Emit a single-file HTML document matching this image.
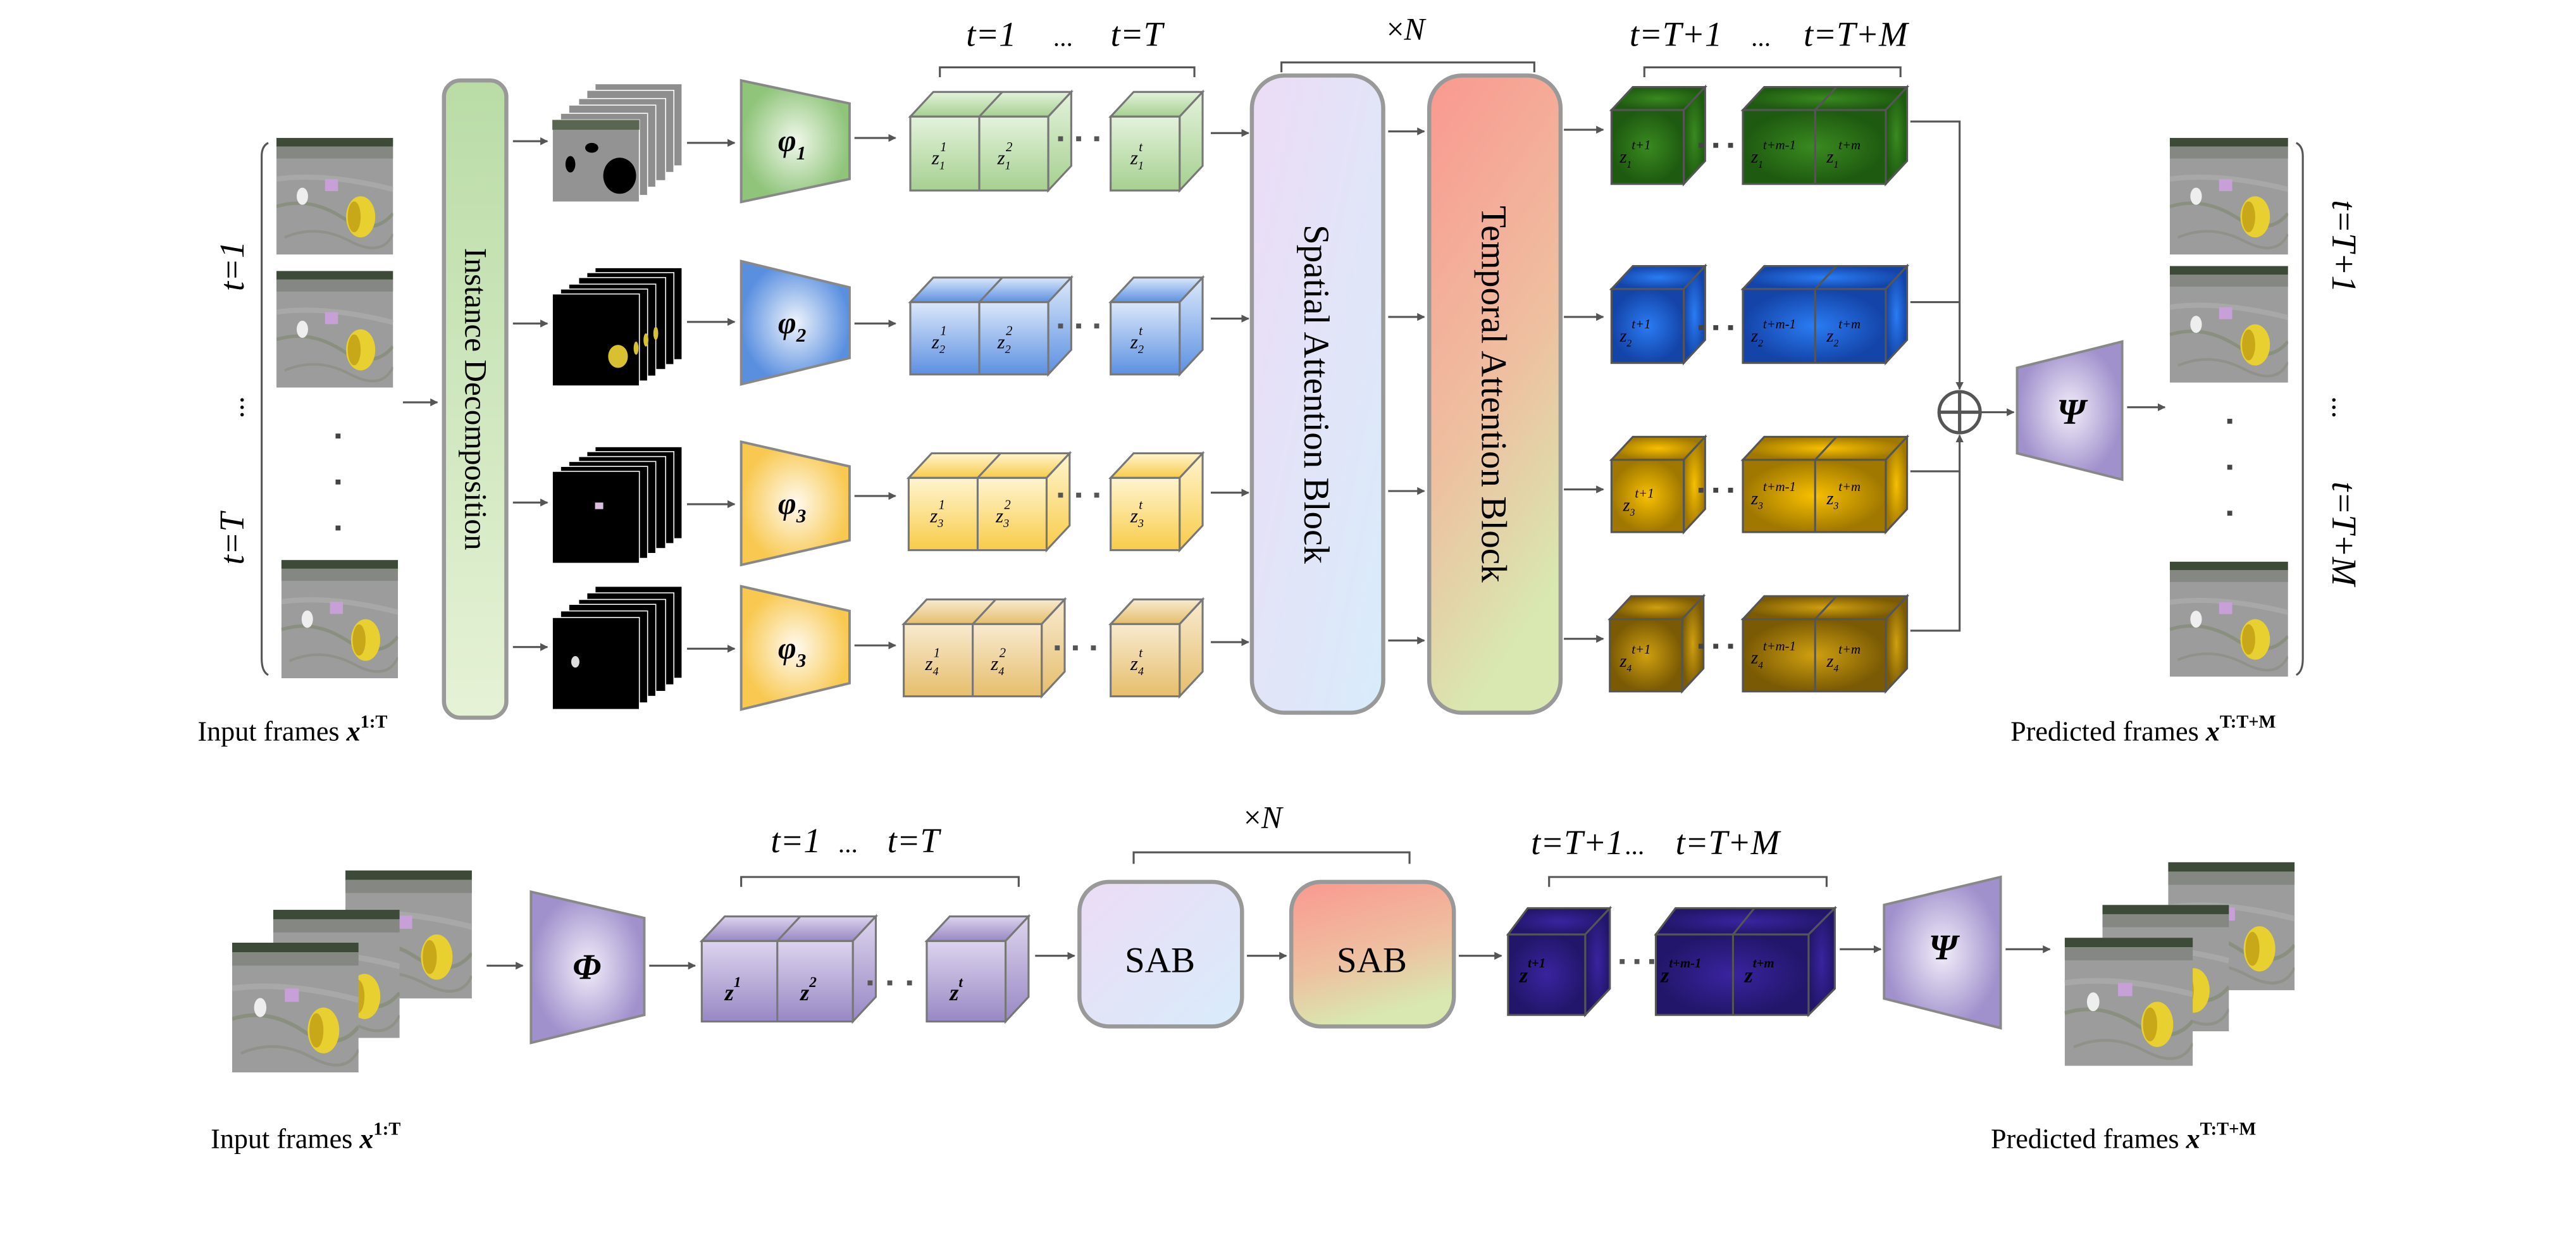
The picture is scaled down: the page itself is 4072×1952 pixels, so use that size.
<!DOCTYPE html>
<html><head><meta charset="utf-8"><style>
html,body{margin:0;padding:0;background:#fff;}
svg{display:block;}
text{font-family:"Liberation Serif",serif;}
</style></head><body>
<svg width="4072" height="1952" viewBox="0 0 1568 752" xmlns="http://www.w3.org/2000/svg">
<defs>
<marker id="ar" viewBox="0 0 10 10" refX="9" refY="5" markerWidth="4" markerHeight="4" orient="auto"><path d="M0,0 L10,5 L0,10 z" fill="#555"/></marker>
<linearGradient id="gID" x1="0" y1="0" x2="0" y2="1"><stop offset="0" stop-color="#b9dca6"/><stop offset="1" stop-color="#e6f2d6"/></linearGradient>
<linearGradient id="gSp" x1="0" y1="0" x2="1" y2="1"><stop offset="0" stop-color="#ecdcf6"/><stop offset="1" stop-color="#d8ecfa"/></linearGradient>
<linearGradient id="gTp" x1="0" y1="0" x2="0.3" y2="1"><stop offset="0" stop-color="#fa9890"/><stop offset="0.6" stop-color="#eec0a0"/><stop offset="1" stop-color="#d8e8b0"/></linearGradient>
<radialGradient id="trG"><stop offset="0" stop-color="#f0f8ea"/><stop offset="1" stop-color="#8fc47a"/></radialGradient>
<radialGradient id="trB"><stop offset="0" stop-color="#eef4fc"/><stop offset="1" stop-color="#5a8fe0"/></radialGradient>
<radialGradient id="trY"><stop offset="0" stop-color="#fffaf0"/><stop offset="1" stop-color="#f8c850"/></radialGradient>
<radialGradient id="trP"><stop offset="0" stop-color="#f2eefa"/><stop offset="1" stop-color="#a090cc"/></radialGradient>
<linearGradient id="cG" x1="0" y1="0" x2="0" y2="1"><stop offset="0" stop-color="#e4f2dc"/><stop offset="1" stop-color="#a6d090"/></linearGradient>
<linearGradient id="cB" x1="0" y1="0" x2="0" y2="1"><stop offset="0" stop-color="#dce8fa"/><stop offset="1" stop-color="#5c90e2"/></linearGradient>
<linearGradient id="cY" x1="0" y1="0" x2="0" y2="1"><stop offset="0" stop-color="#fff4d0"/><stop offset="1" stop-color="#f8cc48"/></linearGradient>
<linearGradient id="cO" x1="0" y1="0" x2="0" y2="1"><stop offset="0" stop-color="#f8ead0"/><stop offset="1" stop-color="#e6be6c"/></linearGradient>
<linearGradient id="cP" x1="0" y1="0" x2="0" y2="1"><stop offset="0" stop-color="#ddd4ee"/><stop offset="1" stop-color="#9888c4"/></linearGradient>
<radialGradient id="dG"><stop offset="0" stop-color="#3a8a20"/><stop offset="1" stop-color="#1e5a10"/></radialGradient>
<radialGradient id="dB"><stop offset="0" stop-color="#2a7cf4"/><stop offset="1" stop-color="#1444a8"/></radialGradient>
<radialGradient id="dY"><stop offset="0" stop-color="#f8c000"/><stop offset="1" stop-color="#a07800"/></radialGradient>
<radialGradient id="dO"><stop offset="0" stop-color="#d0a010"/><stop offset="1" stop-color="#7a5a04"/></radialGradient>
<radialGradient id="dP"><stop offset="0" stop-color="#3a24a0"/><stop offset="1" stop-color="#22166a"/></radialGradient>
<symbol id="ph" viewBox="0 0 72 68" preserveAspectRatio="none">
<rect width="72" height="68" fill="#9c9c9c"/>
<rect width="72" height="5" fill="#3d4a38"/>
<rect y="5" width="72" height="7" fill="#858782"/>
<path d="M0,40 Q20,34 40,46 T72,44" stroke="#8a9080" stroke-width="2" fill="none"/>
<path d="M5,58 Q25,50 45,60 T72,56" stroke="#8e9288" stroke-width="1.5" fill="none"/>
<path d="M0,24 Q30,20 72,30" stroke="#a8a8a8" stroke-width="3" fill="none"/>
<ellipse cx="16" cy="34" rx="3.5" ry="5" fill="#eee"/>
<rect x="30" y="24" width="8" height="7" fill="#c8a0d8"/>
<ellipse cx="52" cy="46" rx="9" ry="12" fill="#e8d030"/>
<ellipse cx="48" cy="46" rx="4" ry="9" fill="#c8a818"/>
</symbol>
</defs>
<g fill="none" stroke="#555" stroke-width="1.2" marker-end="url(#ar)">
<line x1="245" y1="245" x2="266" y2="245"/>
<line x1="312" y1="86" x2="333" y2="86"/><line x1="312" y1="197" x2="333" y2="197"/><line x1="312" y1="306" x2="333" y2="306"/><line x1="312" y1="394" x2="333" y2="394"/>
<line x1="418" y1="87" x2="447" y2="87"/><line x1="418" y1="196" x2="447" y2="196"/><line x1="418" y1="307" x2="447" y2="307"/><line x1="418" y1="395" x2="447" y2="395"/>
<line x1="520" y1="84" x2="545" y2="84"/><line x1="520" y1="197" x2="545" y2="197"/><line x1="520" y1="302" x2="545" y2="302"/><line x1="520" y1="393" x2="545" y2="393"/>
<line x1="737" y1="81" x2="760" y2="81"/><line x1="737" y1="194" x2="760" y2="194"/><line x1="737" y1="300" x2="760" y2="300"/><line x1="737" y1="391" x2="760" y2="391"/>
<line x1="845" y1="80" x2="867" y2="80"/><line x1="845" y1="193" x2="867" y2="193"/><line x1="845" y1="299" x2="867" y2="299"/><line x1="845" y1="390" x2="867" y2="390"/>
<line x1="952" y1="79" x2="976" y2="79"/><line x1="952" y1="193" x2="976" y2="193"/><line x1="952" y1="298" x2="976" y2="298"/><line x1="952" y1="389" x2="976" y2="389"/>
<line x1="1206" y1="251" x2="1226" y2="251"/>
<line x1="1295" y1="248" x2="1318" y2="248"/>
<line x1="296" y1="588" x2="318" y2="588"/><line x1="395" y1="588" x2="423" y2="588"/><line x1="630" y1="582" x2="654" y2="582"/>
<line x1="759" y1="582" x2="783" y2="582"/><line x1="888" y1="582" x2="914" y2="582"/><line x1="1120" y1="578" x2="1145" y2="578"/><line x1="1221" y1="578" x2="1248" y2="578"/>
</g>
<g fill="none" stroke="#555" stroke-width="1.2">
<polyline points="1163,74 1193,74 1193,237" marker-end="url(#ar)"/>
<polyline points="1163,184 1193,184"/>
<polyline points="1163,287 1193,287 1193,265" marker-end="url(#ar)"/>
<polyline points="1163,384 1193,384 1193,287"/>
<circle cx="1193" cy="251" r="12.5" stroke-width="2"/>
<line x1="1180.5" y1="251" x2="1205.5" y2="251" stroke-width="2"/><line x1="1193" y1="238.5" x2="1193" y2="263.5" stroke-width="2"/>
<path d="M572,47 V41 H727 V47"/><path d="M780,44 V38 H934 V44"/><path d="M1001,47 V41 H1157 V47"/>
<path d="M451,540 V534 H620 V540"/><path d="M690,526 V519 H858 V526"/><path d="M943,540 V534 H1112 V540"/>
<path d="M163,87 Q159,89 159,95 V401 Q159,409 163,411"/>
<path d="M1398,87 Q1402,89 1402,95 V401 Q1402,409 1398,411"/>
</g>
<use href="#ph" x="168" y="84" width="71" height="71"/>
<use href="#ph" x="168" y="165" width="71" height="71"/>
<use href="#ph" x="171" y="341" width="71" height="72"/>
<g fill="#444"><rect x="204" y="264" width="3" height="3"/><rect x="204" y="292" width="3" height="3"/><rect x="204" y="320" width="3" height="3"/>
<rect x="1356" y="255" width="3" height="3"/><rect x="1356" y="283" width="3" height="3"/><rect x="1356" y="311" width="3" height="3"/></g>
<text transform="translate(148,162) rotate(-90)" font-size="21" font-style="italic" text-anchor="middle">t=1</text>
<text transform="translate(148,248) rotate(-90)" font-size="18" text-anchor="middle">...</text>
<text transform="translate(148,328) rotate(-90)" font-size="21" font-style="italic" text-anchor="middle">t=T</text>
<text x="120" y="451" font-size="17">Input frames <tspan font-style="italic" font-weight="bold">x</tspan><tspan font-size="11" font-weight="bold" dy="-8">1:T</tspan></text>
<rect x="270" y="49" width="38" height="388" rx="10" fill="url(#gID)" stroke="#999" stroke-width="2.5"/>
<text transform="translate(283,243) rotate(90)" font-size="19" text-anchor="middle">Instance Decomposition</text>
<!-- masks row1 -->
<g stroke="#fff" stroke-width="0.6" fill="#8e8e8e">
<rect x="362" y="51" width="53" height="50"/><rect x="357" y="55" width="53" height="50"/><rect x="352" y="60" width="53" height="50"/><rect x="346" y="64" width="53" height="50"/><rect x="341" y="69" width="53" height="50"/><rect x="336" y="73" width="53" height="50" fill="#939393"/>
</g>
<rect x="336" y="73" width="53" height="6" fill="#5a6552"/>
<ellipse cx="377" cy="107" rx="10" ry="11" fill="#000"/><ellipse cx="347" cy="100" rx="3" ry="5" fill="#000"/><ellipse cx="360" cy="90" rx="4" ry="3" fill="#000"/>
<g fill="#000" stroke="#fff" stroke-width="0.6">
<rect x="362" y="163" width="53" height="56"/><rect x="357" y="166" width="53" height="56"/><rect x="352" y="169" width="53" height="56"/><rect x="346" y="173" width="53" height="56"/><rect x="341" y="176" width="53" height="56"/><rect x="336" y="179" width="53" height="56"/>
<rect x="362" y="272" width="53" height="56"/><rect x="357" y="275" width="53" height="56"/><rect x="352" y="278" width="53" height="56"/><rect x="346" y="281" width="53" height="56"/><rect x="341" y="284" width="53" height="56"/><rect x="336" y="287" width="53" height="56"/>
<rect x="362" y="357" width="53" height="56"/><rect x="357" y="361" width="53" height="56"/><rect x="352" y="365" width="53" height="56"/><rect x="346" y="368" width="53" height="56"/><rect x="341" y="372" width="53" height="56"/><rect x="336" y="376" width="53" height="56"/>
</g>
<ellipse cx="376" cy="217" rx="6" ry="7" fill="#d8c030"/><ellipse cx="387" cy="212" rx="1.5" ry="4" fill="#d8c030"/><ellipse cx="393" cy="207" rx="1.5" ry="4" fill="#d8c030"/><ellipse cx="399" cy="203" rx="1.5" ry="4" fill="#d8c030"/>
<rect x="362" y="306" width="5" height="4" fill="#d8c0e0"/><ellipse cx="350" cy="403" rx="2.5" ry="3.5" fill="#ddd"/>
<g stroke="#888" stroke-width="1.5">
<polygon points="451,49 517,63 517,109 451,123" fill="url(#trG)"/>
<polygon points="451,159 517,175 517,218 451,234" fill="url(#trB)"/>
<polygon points="451,269 517,284 517,329 451,344" fill="url(#trY)"/>
<polygon points="451,357 517,372 517,416 451,432" fill="url(#trY)"/>
</g>
<g font-size="19" font-style="italic" font-weight="bold" text-anchor="middle">
<text x="482" y="92">φ<tspan font-size="12" dy="5">1</tspan></text>
<text x="482" y="203">φ<tspan font-size="12" dy="5">2</tspan></text>
<text x="482" y="313">φ<tspan font-size="12" dy="5">3</tspan></text>
<text x="482" y="401">φ<tspan font-size="12" dy="5">3</tspan></text>
</g>
<text x="588" y="28" font-size="21" font-style="italic">t=1</text><text x="641" y="28" font-size="16">...</text><text x="676" y="28" font-size="21" font-style="italic">t=T</text>
<text x="844" y="24" font-size="19">×<tspan font-style="italic">N</tspan></text>
<text x="992" y="28" font-size="21" font-style="italic">t=T+1</text><text x="1066" y="28" font-size="16">...</text><text x="1098" y="28" font-size="21" font-style="italic">t=T+M</text>
<g stroke="#777" stroke-width="1.2">
<g fill="url(#cG)"><polygon points="554,71 568,56 652,56 638,71"/><polygon points="638,71 652,56 652,101 638,116"/><rect x="554" y="71" width="84" height="45"/><line x1="596" y1="71" x2="596" y2="116"/><line x1="596" y1="71" x2="610" y2="56"/>
<polygon points="676,71 690,56 732,56 718,71"/><polygon points="718,71 732,56 732,101 718,116"/><rect x="676" y="71" width="42" height="45"/></g>
<g fill="url(#cB)"><polygon points="554,184 568,169 652,169 638,184"/><polygon points="638,184 652,169 652,213 638,228"/><rect x="554" y="184" width="84" height="44"/><line x1="596" y1="184" x2="596" y2="228"/><line x1="596" y1="184" x2="610" y2="169"/>
<polygon points="676,184 690,169 732,169 718,184"/><polygon points="718,184 732,169 732,213 718,228"/><rect x="676" y="184" width="42" height="44"/></g>
<g fill="url(#cY)"><polygon points="553,291 567,276 651,276 637,291"/><polygon points="637,291 651,276 651,320 637,335"/><rect x="553" y="291" width="84" height="44"/><line x1="595" y1="291" x2="595" y2="335"/><line x1="595" y1="291" x2="609" y2="276"/>
<polygon points="676,291 690,276 732,276 718,291"/><polygon points="718,291 732,276 732,320 718,335"/><rect x="676" y="291" width="42" height="44"/></g>
<g fill="url(#cO)"><polygon points="550,380 564,365 648,365 634,380"/><polygon points="634,380 648,365 648,409 634,424"/><rect x="550" y="380" width="84" height="44"/><line x1="592" y1="380" x2="592" y2="424"/><line x1="592" y1="380" x2="606" y2="365"/>
<polygon points="676,380 690,365 732,365 718,380"/><polygon points="718,380 732,365 732,409 718,424"/><rect x="676" y="380" width="42" height="44"/></g>
</g>
<g fill="#555"><rect x="644" y="83" width="3" height="3"/><rect x="655" y="83" width="3" height="3"/><rect x="666" y="83" width="3" height="3"/>
<rect x="644" y="197" width="3" height="3"/><rect x="655" y="197" width="3" height="3"/><rect x="666" y="197" width="3" height="3"/>
<rect x="644" y="300" width="3" height="3"/><rect x="655" y="300" width="3" height="3"/><rect x="666" y="300" width="3" height="3"/>
<rect x="642" y="393" width="3" height="3"/><rect x="653" y="393" width="3" height="3"/><rect x="664" y="393" width="3" height="3"/></g>
<g font-size="12" font-style="italic">
<text x="567" y="100">z<tspan font-size="7" dy="3">1</tspan><tspan font-size="8" dx="-3" dy="-11">1</tspan></text><text x="607" y="100">z<tspan font-size="7" dy="3">1</tspan><tspan font-size="8" dx="-3" dy="-11">2</tspan></text><text x="688" y="100">z<tspan font-size="7" dy="3">1</tspan><tspan font-size="8" dx="-3" dy="-11">t</tspan></text>
<text x="567" y="212">z<tspan font-size="7" dy="3">2</tspan><tspan font-size="8" dx="-3" dy="-11">1</tspan></text><text x="607" y="212">z<tspan font-size="7" dy="3">2</tspan><tspan font-size="8" dx="-3" dy="-11">2</tspan></text><text x="688" y="212">z<tspan font-size="7" dy="3">2</tspan><tspan font-size="8" dx="-3" dy="-11">t</tspan></text>
<text x="566" y="318">z<tspan font-size="7" dy="3">3</tspan><tspan font-size="8" dx="-3" dy="-11">1</tspan></text><text x="606" y="318">z<tspan font-size="7" dy="3">3</tspan><tspan font-size="8" dx="-3" dy="-11">2</tspan></text><text x="688" y="318">z<tspan font-size="7" dy="3">3</tspan><tspan font-size="8" dx="-3" dy="-11">t</tspan></text>
<text x="563" y="408">z<tspan font-size="7" dy="3">4</tspan><tspan font-size="8" dx="-3" dy="-11">1</tspan></text><text x="603" y="408">z<tspan font-size="7" dy="3">4</tspan><tspan font-size="8" dx="-3" dy="-11">2</tspan></text><text x="688" y="408">z<tspan font-size="7" dy="3">4</tspan><tspan font-size="8" dx="-3" dy="-11">t</tspan></text>
</g>
<rect x="762" y="46" width="80" height="388" rx="20" fill="url(#gSp)" stroke="#999" stroke-width="2.5"/>
<rect x="870" y="46" width="80" height="388" rx="20" fill="url(#gTp)" stroke="#999" stroke-width="2.5"/>
<text transform="translate(794,240) rotate(90)" font-size="22" text-anchor="middle">Spatial Attention Block</text>
<text transform="translate(902,240) rotate(90)" font-size="22" text-anchor="middle">Temporal Attention Block</text>
<g stroke="#555" stroke-width="1.2">
<g fill="url(#dG)"><polygon points="981,67 994,53 1038,53 1025,67"/><polygon points="1025,67 1038,53 1038,98 1025,112"/><rect x="981" y="67" width="44" height="45"/>
<polygon points="1061,67 1074,53 1161,53 1148,67"/><polygon points="1148,67 1161,53 1161,98 1148,112"/><rect x="1061" y="67" width="87" height="45"/><line x1="1105" y1="67" x2="1105" y2="112"/><line x1="1105" y1="67" x2="1118" y2="53"/></g>
<g fill="url(#dB)"><polygon points="981,176 994,162 1038,162 1025,176"/><polygon points="1025,176 1038,162 1038,207 1025,221"/><rect x="981" y="176" width="44" height="45"/>
<polygon points="1061,176 1074,162 1161,162 1148,176"/><polygon points="1148,176 1161,162 1161,207 1148,221"/><rect x="1061" y="176" width="87" height="45"/><line x1="1105" y1="176" x2="1105" y2="221"/><line x1="1105" y1="176" x2="1118" y2="162"/></g>
<g fill="url(#dY)"><polygon points="981,280 994,266 1038,266 1025,280"/><polygon points="1025,280 1038,266 1038,310 1025,324"/><rect x="981" y="280" width="44" height="44"/>
<polygon points="1061,280 1074,266 1161,266 1148,280"/><polygon points="1148,280 1161,266 1161,310 1148,324"/><rect x="1061" y="280" width="87" height="44"/><line x1="1105" y1="280" x2="1105" y2="324"/><line x1="1105" y1="280" x2="1118" y2="266"/></g>
<g fill="url(#dO)"><polygon points="980,377 993,363 1037,363 1024,377"/><polygon points="1024,377 1037,363 1037,407 1024,421"/><rect x="980" y="377" width="44" height="44"/>
<polygon points="1061,377 1074,363 1161,363 1148,377"/><polygon points="1148,377 1161,363 1161,407 1148,421"/><rect x="1061" y="377" width="87" height="44"/><line x1="1105" y1="377" x2="1105" y2="421"/><line x1="1105" y1="377" x2="1118" y2="363"/></g>
</g>
<g fill="#444"><rect x="1034" y="87" width="3" height="3"/><rect x="1043" y="87" width="3" height="3"/><rect x="1052" y="87" width="3" height="3"/>
<rect x="1034" y="198" width="3" height="3"/><rect x="1043" y="198" width="3" height="3"/><rect x="1052" y="198" width="3" height="3"/>
<rect x="1034" y="297" width="3" height="3"/><rect x="1043" y="297" width="3" height="3"/><rect x="1052" y="297" width="3" height="3"/>
<rect x="1034" y="392" width="3" height="3"/><rect x="1043" y="392" width="3" height="3"/><rect x="1052" y="392" width="3" height="3"/></g>
<g font-size="11" font-style="italic">
<text x="986" y="99">z<tspan font-size="6" dy="3">1</tspan><tspan font-size="8" dy="-11">t+1</tspan></text><text x="1066" y="99">z<tspan font-size="6" dy="3">1</tspan><tspan font-size="8" dy="-11">t+m-1</tspan></text><text x="1112" y="99">z<tspan font-size="6" dy="3">1</tspan><tspan font-size="8" dy="-11">t+m</tspan></text>
<text x="986" y="208">z<tspan font-size="6" dy="3">2</tspan><tspan font-size="8" dy="-11">t+1</tspan></text><text x="1066" y="208">z<tspan font-size="6" dy="3">2</tspan><tspan font-size="8" dy="-11">t+m-1</tspan></text><text x="1112" y="208">z<tspan font-size="6" dy="3">2</tspan><tspan font-size="8" dy="-11">t+m</tspan></text>
<text x="988" y="311">z<tspan font-size="6" dy="3">3</tspan><tspan font-size="8" dy="-11">t+1</tspan></text><text x="1066" y="307">z<tspan font-size="6" dy="3">3</tspan><tspan font-size="8" dy="-11">t+m-1</tspan></text><text x="1112" y="307">z<tspan font-size="6" dy="3">3</tspan><tspan font-size="8" dy="-11">t+m</tspan></text>
<text x="986" y="406">z<tspan font-size="6" dy="3">4</tspan><tspan font-size="8" dy="-11">t+1</tspan></text><text x="1066" y="404">z<tspan font-size="6" dy="3">4</tspan><tspan font-size="8" dy="-11">t+m-1</tspan></text><text x="1112" y="406">z<tspan font-size="6" dy="3">4</tspan><tspan font-size="8" dy="-11">t+m</tspan></text>
</g>
<polygon points="1228,224 1292,208 1292,292 1228,276" fill="url(#trP)" stroke="#888" stroke-width="1.5"/>
<text x="1261" y="258" font-size="22" font-style="italic" font-weight="bold" text-anchor="middle">Ψ</text>
<use href="#ph" x="1321" y="84" width="72" height="71"/>
<use href="#ph" x="1321" y="162" width="72" height="71"/>
<use href="#ph" x="1321" y="342" width="72" height="70"/>
<text transform="translate(1420,150) rotate(90)" font-size="21" font-style="italic" text-anchor="middle">t=T+1</text>
<text transform="translate(1420,248) rotate(90)" font-size="18" text-anchor="middle">...</text>
<text transform="translate(1420,325) rotate(90)" font-size="21" font-style="italic" text-anchor="middle">t=T+M</text>
<text x="1224" y="451" font-size="17">Predicted frames <tspan font-style="italic" font-weight="bold">x</tspan><tspan font-size="11" font-weight="bold" dy="-8">T:T+M</tspan></text>
<!-- bottom row -->
<use href="#ph" x="210" y="530" width="77" height="78"/>
<use href="#ph" x="166" y="554" width="77" height="78"/>
<use href="#ph" x="141" y="574" width="77" height="79"/>
<polygon points="323,543 392,559 392,618 323,635" fill="url(#trP)" stroke="#888" stroke-width="1.5"/>
<text x="357" y="596" font-size="22" font-style="italic" font-weight="bold" text-anchor="middle">Φ</text>
<text x="469" y="519" font-size="21" font-style="italic">t=1</text><text x="510" y="519" font-size="16">...</text><text x="540" y="519" font-size="21" font-style="italic">t=T</text>
<text x="757" y="504" font-size="19">×<tspan font-style="italic">N</tspan></text>
<text x="932" y="520" font-size="21" font-style="italic">t=T+1</text><text x="989" y="520" font-size="16">...</text><text x="1020" y="520" font-size="21" font-style="italic">t=T+M</text>
<g stroke="#777" stroke-width="1.2" fill="url(#cP)">
<polygon points="427,573 441,558 533,558 519,573"/><polygon points="519,573 533,558 533,607 519,622"/><rect x="427" y="573" width="92" height="49"/><line x1="473" y1="573" x2="473" y2="622"/><line x1="473" y1="573" x2="487" y2="558"/>
<polygon points="564,573 578,558 626,558 612,573"/><polygon points="612,573 626,558 626,607 612,622"/><rect x="564" y="573" width="48" height="49"/>
</g>
<g fill="#555"><rect x="528" y="597" width="3" height="3"/><rect x="540" y="597" width="3" height="3"/><rect x="552" y="597" width="3" height="3"/>
<rect x="986" y="584" width="3" height="3"/><rect x="995" y="584" width="3" height="3"/><rect x="1004" y="584" width="3" height="3"/></g>
<g font-size="14" font-style="italic" font-weight="bold">
<text x="441" y="609">z<tspan font-size="9" dy="-8">1</tspan></text><text x="487" y="609">z<tspan font-size="9" dy="-8">2</tspan></text><text x="578" y="609">z<tspan font-size="9" dy="-8">t</tspan></text>
</g>
<rect x="657" y="537" width="99" height="88" rx="18" fill="url(#gSp)" stroke="#999" stroke-width="2.5"/>
<rect x="786" y="537" width="99" height="88" rx="18" fill="url(#gTp)" stroke="#999" stroke-width="2.5"/>
<text x="706" y="592" font-size="22" text-anchor="middle">SAB</text>
<text x="835" y="592" font-size="22" text-anchor="middle">SAB</text>
<g stroke="#555" stroke-width="1.2" fill="url(#dP)">
<polygon points="918,569 930,553 980,553 965,569"/><polygon points="965,569 980,553 980,602 965,618"/><rect x="918" y="569" width="47" height="49"/>
<polygon points="1008,569 1020,553 1117,553 1101,569"/><polygon points="1101,569 1117,553 1117,602 1101,618"/><rect x="1008" y="569" width="93" height="49"/><line x1="1055" y1="569" x2="1055" y2="618"/><line x1="1055" y1="569" x2="1068" y2="553"/>
</g>
<g font-size="13" font-style="italic" font-weight="bold">
<text x="925" y="598">z<tspan font-size="8" dy="-9">t+1</tspan></text><text x="1011" y="598">z<tspan font-size="8" dy="-9">t+m-1</tspan></text><text x="1062" y="598">z<tspan font-size="8" dy="-9">t+m</tspan></text>
</g>
<polygon points="1147,551 1218,534 1218,626 1147,608" fill="url(#trP)" stroke="#888" stroke-width="1.5"/>
<text x="1183" y="584" font-size="22" font-style="italic" font-weight="bold" text-anchor="middle">Ψ</text>
<use href="#ph" x="1320" y="525" width="77" height="78"/>
<use href="#ph" x="1280" y="551" width="77" height="77"/>
<use href="#ph" x="1257" y="571" width="78" height="78"/>
<text x="128" y="699" font-size="17">Input frames <tspan font-style="italic" font-weight="bold">x</tspan><tspan font-size="11" font-weight="bold" dy="-8">1:T</tspan></text>
<text x="1212" y="699" font-size="17">Predicted frames <tspan font-style="italic" font-weight="bold">x</tspan><tspan font-size="11" font-weight="bold" dy="-8">T:T+M</tspan></text>
</svg>
</body></html>
